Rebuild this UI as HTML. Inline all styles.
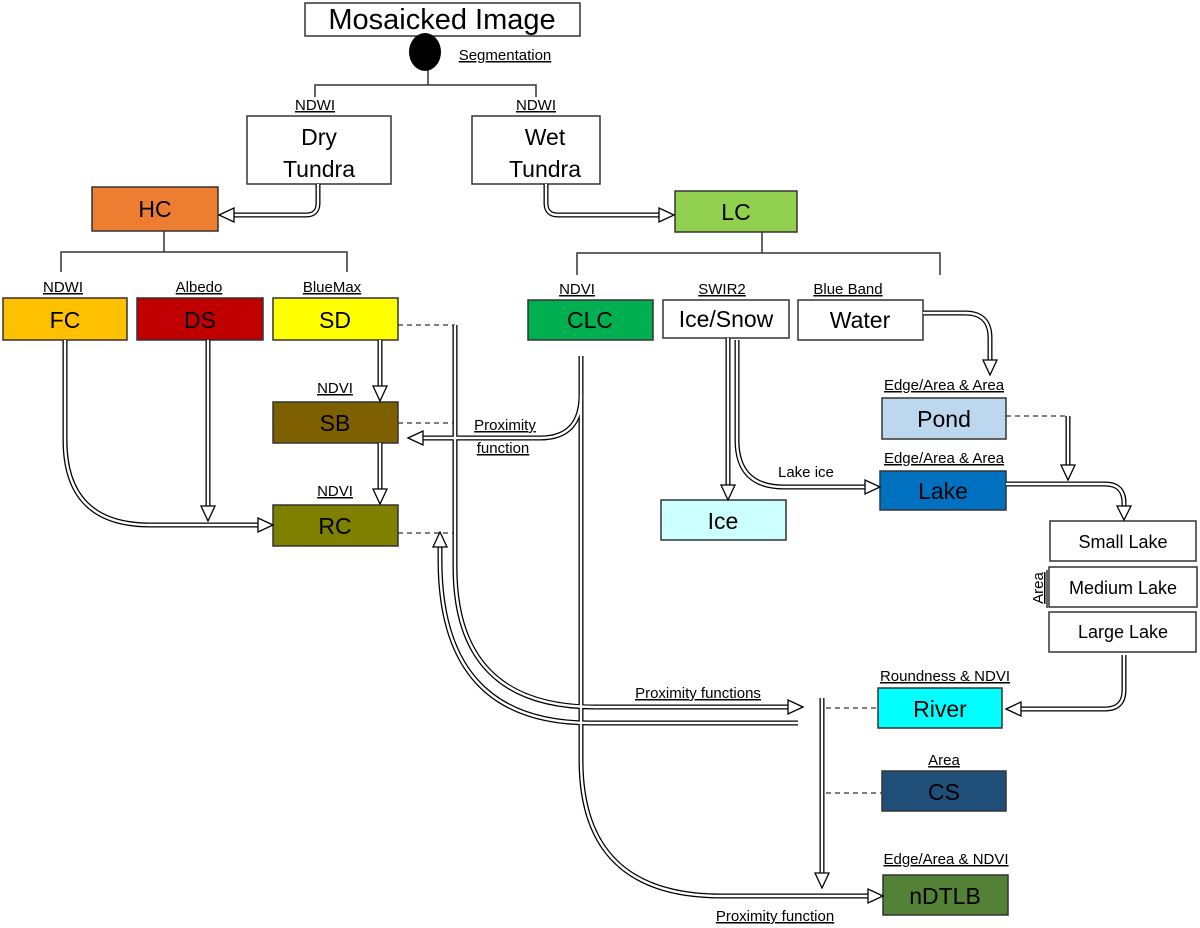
<!DOCTYPE html>
<html><head><meta charset="utf-8"><style>
html,body{margin:0;padding:0;background:#fff;}
svg{display:block;font-family:"Liberation Sans",sans-serif;}
.b{font-size:23px;text-anchor:middle;dominant-baseline:central;}
.l{font-size:15px;text-anchor:middle;text-decoration:underline;}
.ah{fill:#fff;stroke:#000;stroke-width:1.3;}
</style></head><body>
<svg width="1200" height="928" viewBox="0 0 1200 928" xmlns="http://www.w3.org/2000/svg">
<defs>
<g id="P">
<path d="M318,184 V203 Q318,215 306,215 H234"/>
<path d="M546,184 V203 Q546,215 558,215 H659"/>
<path d="M65,340 V440 Q65,525 150,525 H258"/>
<path d="M208,340 V506"/>
<path d="M380,340 V386"/>
<path d="M380,443 V489"/>
<path d="M455,325 V567 Q455,707 595,707 H788"/>
<path d="M798,723 H590 Q440,723 440,560 V547"/>
<path d="M581,356 V760 Q581,896 721,896 H868"/>
<path d="M581,395 Q581,438 540,438 H423"/>
<path d="M728,338 V485"/>
<path d="M737,340 V440 Q737,487 784,487 H865"/>
<path d="M923,313 H965 Q990,313 990,338 V360"/>
<path d="M1068,416 V465"/>
<path d="M1006,484 H1105 Q1124,484 1124,503 V506"/>
<path d="M1124,655 V690 Q1124,709 1105,709 H1021"/>
<path d="M822,698 V873"/>
</g>
</defs>
<g stroke="#333" stroke-width="1.5">
<rect x="305" y="3" width="275" height="33" fill="#fff"/>
<rect x="247" y="116" width="144" height="68" fill="#fff"/>
<rect x="472" y="116" width="128" height="68" fill="#fff"/>
<rect x="92" y="187" width="126" height="44" fill="#ED7D31"/>
<rect x="675" y="191" width="122" height="41" fill="#92D050"/>
<rect x="3" y="298" width="124" height="42" fill="#FFC000"/>
<rect x="137" y="298" width="126" height="42" fill="#C00000"/>
<rect x="273" y="298" width="125" height="42" fill="#FFFF00"/>
<rect x="528" y="300" width="125" height="40" fill="#00B050"/>
<rect x="663" y="300" width="126" height="38" fill="#fff"/>
<rect x="798" y="300" width="125" height="40" fill="#fff"/>
<rect x="273" y="402" width="125" height="41" fill="#7F6000"/>
<rect x="273" y="505" width="125" height="41" fill="#808000"/>
<rect x="661" y="500" width="125" height="40" fill="#CCFFFF"/>
<rect x="882" y="398" width="124" height="41" fill="#BDD7EE"/>
<rect x="880" y="471" width="126" height="39" fill="#0070C0"/>
<rect x="1050" y="521" width="146" height="40" fill="#fff"/>
<rect x="1049" y="567" width="148" height="40" fill="#fff"/>
<rect x="1049" y="612" width="147" height="40" fill="#fff"/>
<rect x="878" y="688" width="124" height="40" fill="#00FFFF"/>
<rect x="882" y="771" width="124" height="40" fill="#1F4E79"/>
<rect x="883" y="875" width="125" height="40" fill="#538135"/>
</g>
<g fill="none" stroke="#333" stroke-width="1.5">
<path d="M315,97 V85 H536 V97 M428,85 V70"/>
<path d="M61,272 V252 H347 V272 M164,252 V231"/>
<path d="M577,275 V253 H940 V275 M762,253 V232"/>
<path d="M1047,570 V608"/>
</g>
<ellipse cx="425" cy="52" rx="16" ry="19" fill="#000"/>
<g stroke="#333" stroke-width="1.3" stroke-dasharray="5,4" fill="none">
<path d="M398,325 H455"/>
<path d="M398,423 H455"/>
<path d="M398,533 H455"/>
<path d="M1006,416 H1068"/>
<path d="M826,708 H878"/>
<path d="M826,793 H882"/>
</g>
<use href="#P" fill="none" stroke="#000" stroke-width="5"/>
<use href="#P" fill="none" stroke="#fff" stroke-width="2.4"/>
<g class="ah">
<polygon points="219,215 234,208 234,222"/>
<polygon points="674,215 659,208 659,222"/>
<polygon points="273,525 258,518 258,532"/>
<polygon points="208,521 201,506 215,506"/>
<polygon points="380,401 373,386 387,386"/>
<polygon points="380,504 373,489 387,489"/>
<polygon points="803,707 788,700 788,714"/>
<polygon points="440,532 433,547 447,547"/>
<polygon points="883,896 868,889 868,903"/>
<polygon points="408,438 423,431 423,445"/>
<polygon points="728,500 721,485 735,485"/>
<polygon points="880,487 865,480 865,494"/>
<polygon points="990,375 983,360 997,360"/>
<polygon points="1068,480 1061,465 1075,465"/>
<polygon points="1124,520 1117,506 1131,506"/>
<polygon points="1006,709 1021,702 1021,716"/>
<polygon points="822,888 815,873 829,873"/>
</g>
<text class="b" x="442" y="20" style="font-size:29px">Mosaicked Image</text>
<text class="b" x="319" y="137">Dry</text><text class="b" x="319" y="169">Tundra</text>
<text class="b" x="545" y="137">Wet</text><text class="b" x="545" y="169">Tundra</text>
<text class="b" x="155" y="209">HC</text>
<text class="b" x="736" y="212">LC</text>
<text class="b" x="65" y="320">FC</text>
<text class="b" x="200" y="320">DS</text>
<text class="b" x="335" y="320">SD</text>
<text class="b" x="590" y="320">CLC</text>
<text class="b" x="726" y="319">Ice/Snow</text>
<text class="b" x="860" y="320">Water</text>
<text class="b" x="335" y="423">SB</text>
<text class="b" x="335" y="526">RC</text>
<text class="b" x="723" y="521">Ice</text>
<text class="b" x="944" y="419">Pond</text>
<text class="b" x="943" y="491">Lake</text>
<text class="b" x="1123" y="542" style="font-size:18px">Small Lake</text>
<text class="b" x="1123" y="588" style="font-size:18px">Medium Lake</text>
<text class="b" x="1123" y="632" style="font-size:18px">Large Lake</text>
<text class="b" x="940" y="709">River</text>
<text class="b" x="944" y="792">CS</text>
<text class="b" x="945" y="896">nDTLB</text>
<text class="l" x="505" y="60">Segmentation</text>
<text class="l" x="315" y="110">NDWI</text>
<text class="l" x="536" y="110">NDWI</text>
<text class="l" x="63" y="292">NDWI</text>
<text class="l" x="199" y="292">Albedo</text>
<text class="l" x="332" y="292">BlueMax</text>
<text class="l" x="577" y="294">NDVI</text>
<text class="l" x="722" y="294">SWIR2</text>
<text class="l" x="848" y="294">Blue Band</text>
<text class="l" x="335" y="393">NDVI</text>
<text class="l" x="335" y="496">NDVI</text>
<text class="l" x="505" y="430">Proximity</text>
<text class="l" x="503" y="453">function</text>
<text x="778" y="477" style="font-size:15px">Lake ice</text>
<text class="l" x="944" y="390">Edge/Area &amp; Area</text>
<text class="l" x="944" y="463">Edge/Area &amp; Area</text>
<text class="l" x="698" y="698">Proximity functions</text>
<text class="l" x="945" y="681">Roundness &amp; NDVI</text>
<text class="l" x="944" y="765">Area</text>
<text class="l" x="946" y="864">Edge/Area &amp; NDVI</text>
<text class="l" x="775" y="921">Proximity function</text>
<text class="l" transform="translate(1043,588) rotate(-90)">Area</text>
</svg>
</body></html>
